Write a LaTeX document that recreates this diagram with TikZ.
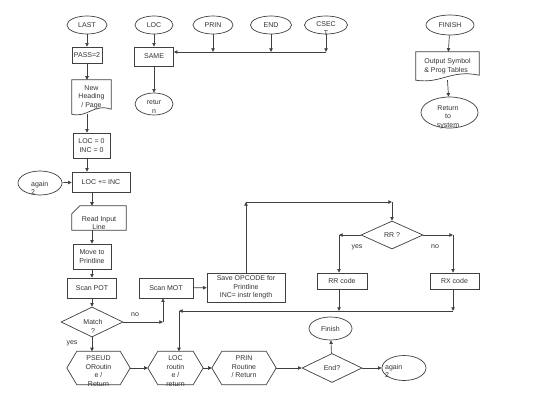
\documentclass[tikz,border=0pt]{standalone}
\usepackage{fontspec}
\setmainfont{Liberation Sans}
\usetikzlibrary{shapes.geometric,arrows.meta,calc}
\definecolor{lncol}{HTML}{404040}
\definecolor{txcol}{HTML}{333333}
\newcommand\dgfont{\fontsize{7pt}{8.5pt}\selectfont}
\tikzset{
  shp/.style={draw=lncol, line width=0.7pt, inner sep=0pt, font=\dgfont, text=txcol, align=center},
  term/.style={shp, ellipse},
  proc/.style={shp, rectangle},
  dec/.style={shp, diamond},
  blank/.style={rectangle, inner sep=0pt, font=\dgfont, text=txcol, align=center},
  txt/.style={inner sep=0pt, font=\dgfont, text=txcol, align=center},
  lbl/.style={inner sep=0pt, font=\dgfont, text=txcol},
  arr/.style={draw=lncol, line width=0.7pt, -{Triangle[length=3.6pt,width=3.4pt]}},
  outline/.style={draw=lncol, line width=0.7pt}
}
\newcommand\docshape[1]{%
  \draw[outline] (#1.south west) -- (#1.north west) -- (#1.north east) -- ($(#1.south east)+(0,-5)$)
    .. controls ($(#1.south west)!0.55!(#1.south east)+(0,-11)$) and ($(#1.south west)!0.40!(#1.south east)+(0,4)$) .. (#1.south west) -- cycle;}
\newcommand\cardshape[1]{%
  \draw[outline] ($(#1.north west)+(0,8)$) -- ($(#1.north west)+(8,0)$) -- (#1.north east) -- (#1.south east) -- (#1.south west) -- cycle;}
\newcommand\hexshape[1]{%
  \draw[outline] (#1.west) -- ($(#1.north west)+(10,0)$) -- ($(#1.north east)+(-10,0)$) -- (#1.east)
    -- ($(#1.south east)+(-10,0)$) -- ($(#1.south west)+(10,0)$) -- cycle;}
\begin{document}
\begin{tikzpicture}[x=1pt,y=-1pt]
\useasboundingbox[fill=white] (0,0) rectangle (560,420);

% top row
\node[term, minimum width=40pt, minimum height=18pt] (last) at (87,25) {LAST};
\node[term, minimum width=38pt, minimum height=18pt] (loc) at (154,25) {LOC};
\node[term, minimum width=40pt, minimum height=18pt] (prin) at (213,25) {PRIN};
\node[term, minimum width=41pt, minimum height=18pt] (endt) at (271,25) {END};
\node[term, minimum width=43pt, minimum height=18pt] (csect) at (326,25) {};
\node[txt] (csect-t) at (326,28.5) {CSEC\\T};

\node[proc, minimum width=30pt, minimum height=16pt] (pass) at (87,55) {PASS=2};
\node[proc, minimum width=39pt, minimum height=19pt] (same) at (154,56.5) {SAME};
\node[term, minimum width=38pt, minimum height=22pt] (retn) at (154,104) {};
\node[txt] (retn-t) at (154,106.5) {retur\\n};

\node[blank, minimum width=39pt, minimum height=34pt] (head) at (91.5,97) {New\\Heading\\/ Page};
\docshape{head}

\node[proc, minimum width=37pt, minimum height=25pt] (loc0) at (91.5,145.5) {LOC = 0\\INC = 0};
\node[term, minimum width=44pt, minimum height=24pt] (ag1) at (40,183) {};
\node[txt, align=left, anchor=west] (ag1-t) at (31,188) {again\\2};
\node[proc, minimum width=58pt, minimum height=20pt] (locinc) at (101,182) {LOC += INC};

\node[blank, minimum width=54pt, minimum height=24pt] (read) at (99,218) {};
\cardshape{read}
\node[txt] (read-t) at (99,223) {Read Input\\Line};

\node[proc, minimum width=38pt, minimum height=25pt] (move) at (92,256.5) {Move to\\Printline};
\node[proc, minimum width=49pt, minimum height=20pt] (pot) at (92,288) {Scan POT};
\node[proc, minimum width=54pt, minimum height=20pt] (mot) at (166,288) {Scan MOT};
\node[proc, minimum width=78pt, minimum height=29pt] (save) at (246,287.5) {Save OPCODE for\\Printline\\INC= instr length};

\node[dec, minimum width=62pt, minimum height=30pt] (match) at (92,322) {};
\node[txt] (match-t) at (93,326.5) {Match\\?};

\node[dec, minimum width=62pt, minimum height=28pt] (rr) at (392,235) {RR ?};
\node[proc, minimum width=50pt, minimum height=16pt] (rrc) at (342,281) {RR code};
\node[proc, minimum width=49pt, minimum height=16pt] (rxc) at (454.5,281) {RX code};

% bottom row
\node[blank, minimum width=63pt, minimum height=33pt] (pseudo) at (98.5,368) {};
\hexshape{pseudo}
\node[txt] (pseudo-t) at (98.5,371) {PSEUD\\ORoutin\\e /\\Return};
\node[blank, minimum width=55pt, minimum height=33pt] (lochex) at (175.5,368) {};
\hexshape{lochex}
\node[txt] (lochex-t) at (175.5,371) {LOC\\routin\\e /\\return};
\node[blank, minimum width=64pt, minimum height=33pt] (prinhex) at (244,368) {};
\hexshape{prinhex}
\node[txt] (prinhex-t) at (244,367) {PRIN\\Routine\\/ Return};

\node[dec, minimum width=60pt, minimum height=29pt] (endd) at (332,368) {End?};
\node[term, minimum width=43pt, minimum height=23pt] (fin) at (330.5,328.5) {Finish};
\node[term, minimum width=44pt, minimum height=25pt] (ag2) at (404,368) {};
\node[txt, align=left, anchor=west] (ag2-t) at (385,371) {again\\2};

% right column
\node[term, minimum width=48pt, minimum height=20pt] (finish) at (450,25) {FINISH};
\node[blank, minimum width=63pt, minimum height=28pt, align=left] (outdoc) at (447.5,66) {Output Symbol\\\& Prog Tables};
\docshape{outdoc}
\node[term, minimum width=57pt, minimum height=31pt] (retsys) at (449.5,112.5) {};
\node[txt] (retsys-t) at (448,117) {Return\\to\\system};

% coordinates
\coordinate (busy) at (0,52);
\coordinate (c1) at (163,322);
\coordinate (c2) at (246,202);
\coordinate (c3) at (392,202);
\coordinate (c4) at (339,235);
\coordinate (c5) at (453,235);
\coordinate (busb) at (0,311);
\coordinate (c6) at (179,311);

% connectors top
\draw[arr] (last) -- (pass);
\draw[arr] (loc) -- (same);
\draw[arr] (same) -- (retn);
\draw[arr] (prin) -- (prin |- busy);
\draw[arr] (endt) -- (endt |- busy);
\draw[arr] (csect) -- (csect |- busy);
\draw[arr] (csect |- busy) -- (same.east |- busy);

% main column
\draw[arr] (pass) -- (pass |- head.north);
\draw[arr] (head.south -| pass) -- (loc0.north -| pass);
\draw[arr] (loc0.south -| pass) -- (locinc.north -| pass);
\draw[arr] (ag1) -- (locinc);
\draw[arr] (locinc.south -| pot) -- (read.north -| pot);
\draw[arr] (read.south -| pot) -- (move.north -| pot);
\draw[arr] (move) -- (pot);
\draw[arr] (pot) -- (match);
\draw[arr] (match) -- (match |- pseudo.north);
\node[lbl] (yes1) at (72,343) {yes};

% no branch
\draw[arr] (match.east) -- (c1);
\draw[arr] (c1) -- (c1 |- mot.south);
\node[lbl] (no1) at (135,315) {no};
\draw[arr] (mot) -- (save);

% top loop
\draw[arr] (save) -- (c2);
\draw[arr] (c2) -- (c3);
\draw[arr] (c3) -- (rr.north);
\draw[arr] (rr.west) -- (c4);
\draw[arr] (c4) -- (c4 |- rrc.north);
\draw[arr] (rr.east) -- (c5);
\draw[arr] (c5) -- (c5 |- rxc.north);
\node[lbl] (yes2) at (357,247) {yes};
\node[lbl] (no2) at (435,247) {no};

% bottom bus
\draw[arr] (rrc.south -| c4) -- (c4 |- busb);
\draw[arr] (rxc.south -| c5) -- (c5 |- busb);
\draw[arr] (c5 |- busb) -- (c6);
\draw[arr] (c6) -- (c6 |- lochex.north);

% bottom row
\draw[arr] (pseudo.east) -- (lochex.west);
\draw[arr] (lochex.east) -- (prinhex.west);
\draw[arr] (prinhex.east) -- (endd.west);
\draw[arr] (endd) -- (fin);
\draw[arr] (endd) -- (ag2);

% right column
\draw[arr] (finish) -- (outdoc);
\draw[arr] (outdoc.south) -- (retsys);
\end{tikzpicture}
\end{document}
